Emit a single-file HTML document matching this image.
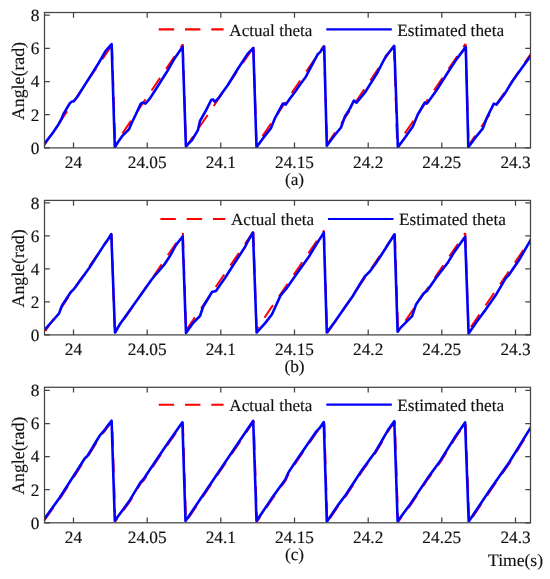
<!DOCTYPE html>
<html><head><meta charset="utf-8"><style>
html,body{margin:0;padding:0;background:#fff;width:550px;height:579px;overflow:hidden}
svg{display:block}
text{font-family:"Liberation Serif","Times New Roman",serif;font-size:17.3px;fill:#111111;stroke:#111111;stroke-width:0.15px;text-rendering:geometricPrecision}
</style></head><body>
<svg width="550" height="579" viewBox="0 0 550 579">
<rect width="550" height="579" fill="#fff"/>
<clipPath id="c0"><rect x="44.5" y="12.5" width="486.0" height="135.4"/></clipPath>
<g clip-path="url(#c0)">
<path d="M44.5,144.7 L112.0,45.0" fill="none" stroke="#ff0000" stroke-width="2" stroke-dasharray="15.2 10.8" stroke-dashoffset="0.8"/>
<path d="M115.2,144.1 L182.8,44.3" fill="none" stroke="#ff0000" stroke-width="2" stroke-dasharray="15.2 10.8" stroke-dashoffset="13.2"/>
<path d="M112.0,45.0 L115.2,144.1" fill="none" stroke="#ff0000" stroke-width="2" stroke-dasharray="15.2 10.8"/>
<path d="M186.0,146.9 L253.4,47.4" fill="none" stroke="#ff0000" stroke-width="2" stroke-dasharray="15.2 10.8" stroke-dashoffset="2.6"/>
<path d="M182.8,44.3 L186.0,146.9" fill="none" stroke="#ff0000" stroke-width="2" stroke-dasharray="15.2 10.8"/>
<path d="M256.6,144.8 L323.9,45.5" fill="none" stroke="#ff0000" stroke-width="2" stroke-dasharray="15.2 10.8" stroke-dashoffset="15.5"/>
<path d="M253.4,47.4 L256.6,144.8" fill="none" stroke="#ff0000" stroke-width="2" stroke-dasharray="15.2 10.8"/>
<path d="M327.1,144.2 L394.0,45.5" fill="none" stroke="#ff0000" stroke-width="2" stroke-dasharray="15.2 10.8" stroke-dashoffset="1.0"/>
<path d="M323.9,45.5 L327.1,144.2" fill="none" stroke="#ff0000" stroke-width="2" stroke-dasharray="15.2 10.8"/>
<path d="M397.2,144.7 L465.5,43.9" fill="none" stroke="#ff0000" stroke-width="2" stroke-dasharray="15.2 10.8" stroke-dashoffset="12.3"/>
<path d="M394.0,45.5 L397.2,144.7" fill="none" stroke="#ff0000" stroke-width="2" stroke-dasharray="15.2 10.8"/>
<path d="M468.7,145.4 L530.5,54.2" fill="none" stroke="#ff0000" stroke-width="2" stroke-dasharray="15.2 10.8" stroke-dashoffset="3.7"/>
<path d="M465.5,43.9 L468.7,145.4" fill="none" stroke="#ff0000" stroke-width="2" stroke-dasharray="15.2 10.8"/>
<path d="M44.0,144.6 L48.2,138.7 L52.4,133.5 L58.6,124.2 L61.2,119.5 L63.8,113.3 L70.0,103.0 L72.0,101.6 L74.1,100.9 L77.2,97.0 L91.5,74.4 L98.7,63.0 L105.5,51.1 L111.6,44.1 L114.8,147.3 L117.9,142.3 L121.9,136.4 L128.9,129.4 L131.9,122.5 L135.8,114.5 L140.8,103.6 L142.8,102.6 L145.4,103.6 L149.8,98.6 L156.0,89.0 L166.9,71.8 L174.9,57.9 L182.6,46.8 L185.9,146.3 L192.0,140.2 L197.9,130.2 L200.0,121.0 L206.0,110.3 L211.2,100.0 L212.9,99.4 L214.8,101.8 L218.9,97.6 L223.7,90.7 L227.7,85.2 L236.8,70.5 L245.6,56.9 L247.6,53.9 L253.3,47.9 L256.5,147.3 L262.9,138.4 L270.8,128.4 L274.8,118.5 L282.8,103.6 L285.8,104.6 L290.0,98.6 L295.1,91.7 L299.9,84.7 L305.9,76.7 L308.9,70.8 L317.8,54.2 L320.6,51.6 L324.2,46.6 L326.8,145.8 L333.7,136.4 L341.0,127.5 L344.9,116.5 L349.9,108.6 L353.9,100.6 L356.5,102.6 L364.8,92.7 L376.7,73.8 L386.0,56.0 L388.5,53.0 L394.3,45.9 L397.9,147.3 L405.8,136.4 L412.8,126.5 L417.8,114.5 L424.7,102.6 L426.7,103.6 L428.5,101.6 L436.9,89.7 L448.9,70.8 L456.8,58.9 L465.8,46.9 L468.3,147.3 L475.1,137.9 L482.9,128.4 L486.9,117.5 L493.9,103.6 L496.4,104.6 L504.8,93.6 L512.7,80.7 L522.7,66.8 L531.0,55.5" fill="none" stroke="#0000ff" stroke-width="2.6" stroke-linejoin="round"/>
</g>
<rect x="44.5" y="12.5" width="486.0" height="135.4" fill="none" stroke="#444444" stroke-width="1.25"/>
<path d="M73.5,147.9v-5.3M73.5,12.5v5.3M147.2,147.9v-5.3M147.2,12.5v5.3M220.8,147.9v-5.3M220.8,12.5v5.3M294.5,147.9v-5.3M294.5,12.5v5.3M368.2,147.9v-5.3M368.2,12.5v5.3M441.8,147.9v-5.3M441.8,12.5v5.3M515.5,147.9v-5.3M515.5,12.5v5.3M44.5,147.9h5.3M530.5,147.9h-5.3M44.5,114.7h5.3M530.5,114.7h-5.3M44.5,81.5h5.3M530.5,81.5h-5.3M44.5,48.3h5.3M530.5,48.3h-5.3M44.5,15.1h5.3M530.5,15.1h-5.3" stroke="#444444" stroke-width="1.25" fill="none"/>
<text x="73.5" y="168.0" text-anchor="middle">24</text>
<text x="147.2" y="168.0" text-anchor="middle">24.05</text>
<text x="220.8" y="168.0" text-anchor="middle">24.1</text>
<text x="294.5" y="168.0" text-anchor="middle">24.15</text>
<text x="368.2" y="168.0" text-anchor="middle">24.2</text>
<text x="441.8" y="168.0" text-anchor="middle">24.25</text>
<text x="515.5" y="168.0" text-anchor="middle">24.3</text>
<text x="39.5" y="153.7" text-anchor="end">0</text>
<text x="39.5" y="120.5" text-anchor="end">2</text>
<text x="39.5" y="87.3" text-anchor="end">4</text>
<text x="39.5" y="54.1" text-anchor="end">6</text>
<text x="39.5" y="20.9" text-anchor="end">8</text>
<text transform="translate(23.9,81.0) rotate(-90)" text-anchor="middle" style="font-size:17.8px">Angle(rad)</text>
<text x="294.5" y="184.9" text-anchor="middle">(a)</text>
<path d="M158.7,29.4H223.6" stroke="#ff0000" stroke-width="2.1" stroke-dasharray="15.4 10.9"/>
<text x="229.3" y="35.75" style="font-size:17.1px">Actual theta</text>
<path d="M326.3,29.4H391.8" stroke="#0000ff" stroke-width="2.2"/>
<text x="397.2" y="35.75">Estimated theta</text>
<clipPath id="c1"><rect x="44.5" y="200.4" width="486.0" height="134.49999999999997"/></clipPath>
<g clip-path="url(#c1)">
<path d="M44.5,332.3 L111.5,234.0" fill="none" stroke="#ff0000" stroke-width="2" stroke-dasharray="15.2 10.8" stroke-dashoffset="24.5"/>
<path d="M114.7,333.1 L182.9,233.1" fill="none" stroke="#ff0000" stroke-width="2" stroke-dasharray="15.2 10.8" stroke-dashoffset="9.8"/>
<path d="M111.5,234.0 L114.7,333.1" fill="none" stroke="#ff0000" stroke-width="2" stroke-dasharray="15.2 10.8"/>
<path d="M186.1,330.4 L253.3,231.8" fill="none" stroke="#ff0000" stroke-width="2" stroke-dasharray="15.2 10.8" stroke-dashoffset="25.5"/>
<path d="M182.9,233.1 L186.1,330.4" fill="none" stroke="#ff0000" stroke-width="2" stroke-dasharray="15.2 10.8"/>
<path d="M256.5,329.3 L323.9,230.5" fill="none" stroke="#ff0000" stroke-width="2" stroke-dasharray="15.2 10.8" stroke-dashoffset="12.0"/>
<path d="M253.3,231.8 L256.5,329.3" fill="none" stroke="#ff0000" stroke-width="2" stroke-dasharray="15.2 10.8"/>
<path d="M327.1,333.3 L394.9,233.8" fill="none" stroke="#ff0000" stroke-width="2" stroke-dasharray="15.2 10.8" stroke-dashoffset="25.5"/>
<path d="M323.9,230.5 L327.1,333.3" fill="none" stroke="#ff0000" stroke-width="2" stroke-dasharray="15.2 10.8"/>
<path d="M398.1,331.5 L465.3,233.0" fill="none" stroke="#ff0000" stroke-width="2" stroke-dasharray="15.2 10.8" stroke-dashoffset="13.0"/>
<path d="M394.9,233.8 L398.1,331.5" fill="none" stroke="#ff0000" stroke-width="2" stroke-dasharray="15.2 10.8"/>
<path d="M468.5,330.5 L530.5,239.6" fill="none" stroke="#ff0000" stroke-width="2" stroke-dasharray="15.2 10.8" stroke-dashoffset="21.8"/>
<path d="M465.3,233.0 L468.5,330.5" fill="none" stroke="#ff0000" stroke-width="2" stroke-dasharray="15.2 10.8"/>
<path d="M44.0,330.5 L52.0,321.5 L59.1,313.4 L61.9,305.8 L70.5,292.5 L73.3,289.7 L76.0,286.3 L89.4,267.8 L104.6,244.1 L107.5,240.3 L111.3,234.0 L115.0,332.5 L120.0,324.0 L125.0,317.0 L130.0,310.0 L135.0,303.0 L140.0,296.0 L152.0,279.0 L164.0,265.0 L170.0,256.0 L176.0,245.0 L182.6,236.5 L186.0,333.0 L193.0,323.0 L200.0,316.0 L203.0,307.0 L212.0,292.0 L216.0,291.0 L220.0,285.0 L225.0,278.0 L232.0,267.0 L245.0,247.0 L248.0,241.0 L253.0,232.5 L256.6,332.5 L265.4,322.9 L272.0,314.3 L280.6,295.4 L286.3,288.7 L294.8,276.4 L309.0,256.5 L314.7,247.0 L319.5,239.4 L323.8,232.7 L326.8,332.5 L335.0,321.5 L343.0,310.0 L352.5,296.5 L360.0,284.0 L364.8,276.5 L369.6,271.7 L375.0,264.5 L381.0,255.5 L389.0,243.0 L394.5,234.3 L397.6,331.8 L400.7,327.6 L412.1,316.2 L415.9,304.8 L423.5,293.5 L427.3,290.6 L435.8,278.3 L448.1,262.2 L453.8,252.7 L460.5,243.2 L465.1,236.8 L468.6,333.5 L477.2,321.0 L485.7,309.6 L496.2,294.4 L505.6,278.3 L508.5,275.4 L518.9,260.3 L529.4,242.2 L531.5,239.0" fill="none" stroke="#0000ff" stroke-width="2.6" stroke-linejoin="round"/>
</g>
<rect x="44.5" y="200.4" width="486.0" height="134.5" fill="none" stroke="#444444" stroke-width="1.25"/>
<path d="M73.5,334.9v-5.3M73.5,200.4v5.3M147.2,334.9v-5.3M147.2,200.4v5.3M220.8,334.9v-5.3M220.8,200.4v5.3M294.5,334.9v-5.3M294.5,200.4v5.3M368.2,334.9v-5.3M368.2,200.4v5.3M441.8,334.9v-5.3M441.8,200.4v5.3M515.5,334.9v-5.3M515.5,200.4v5.3M44.5,334.9h5.3M530.5,334.9h-5.3M44.5,301.9h5.3M530.5,301.9h-5.3M44.5,268.9h5.3M530.5,268.9h-5.3M44.5,235.9h5.3M530.5,235.9h-5.3M44.5,202.9h5.3M530.5,202.9h-5.3" stroke="#444444" stroke-width="1.25" fill="none"/>
<text x="73.5" y="355.0" text-anchor="middle">24</text>
<text x="147.2" y="355.0" text-anchor="middle">24.05</text>
<text x="220.8" y="355.0" text-anchor="middle">24.1</text>
<text x="294.5" y="355.0" text-anchor="middle">24.15</text>
<text x="368.2" y="355.0" text-anchor="middle">24.2</text>
<text x="441.8" y="355.0" text-anchor="middle">24.25</text>
<text x="515.5" y="355.0" text-anchor="middle">24.3</text>
<text x="39.5" y="340.7" text-anchor="end">0</text>
<text x="39.5" y="307.7" text-anchor="end">2</text>
<text x="39.5" y="274.7" text-anchor="end">4</text>
<text x="39.5" y="241.7" text-anchor="end">6</text>
<text x="39.5" y="208.7" text-anchor="end">8</text>
<text transform="translate(23.9,268.4) rotate(-90)" text-anchor="middle" style="font-size:17.8px">Angle(rad)</text>
<text x="294.5" y="371.9" text-anchor="middle">(b)</text>
<path d="M160.4,219.0H225.3" stroke="#ff0000" stroke-width="2.1" stroke-dasharray="15.4 10.9"/>
<text x="231.0" y="225.35" style="font-size:17.1px">Actual theta</text>
<path d="M328.0,219.0H393.5" stroke="#0000ff" stroke-width="2.2"/>
<text x="398.9" y="225.35">Estimated theta</text>
<clipPath id="c2"><rect x="44.5" y="387.3" width="486.0" height="135.49999999999994"/></clipPath>
<g clip-path="url(#c2)">
<path d="M44.5,520.1 L59.6,499.2 L71.0,481.5 L78.4,470.0 L85.0,459.5 L87.9,456.7 L92.6,449.0 L100.3,436.2 L104.1,431.9 L106.9,428.1 L112.1,421.4 L115.3,521.5 L129.6,502.0 L141.0,483.1 L143.8,480.2 L159.0,457.4 L169.4,442.3 L182.9,423.0 L186.0,521.7 L253.7,421.5 L257.0,521.7 L273.5,497.3 L285.8,480.2 L288.7,473.6 L294.3,465.0 L317.1,431.8 L320.0,429.0 L324.3,422.7 L327.3,522.5 L337.8,506.8 L346.3,495.4 L362.5,470.7 L375.7,452.7 L381.4,443.2 L389.0,429.9 L394.8,421.9 L398.1,522.0 L410.7,504.9 L427.8,479.3 L441.0,461.2 L456.2,436.6 L465.6,423.1 L469.2,522.2 L491.0,489.7 L509.9,462.7 L529.9,430.3 L532.0,427.1" fill="none" stroke="#ff0000" stroke-width="2" stroke-dasharray="15.2 10.8" stroke-linejoin="round"/>
<path d="M44.0,519.4 L59.1,498.5 L70.5,480.8 L77.9,469.3 L84.5,458.8 L87.4,456.0 L92.1,448.3 L99.8,435.5 L103.6,431.2 L106.4,427.4 L111.6,420.7 L114.8,520.8 L129.1,501.3 L140.5,482.4 L143.3,479.5 L158.5,456.7 L168.9,441.6 L182.4,422.3 L185.5,521.0 L253.2,420.8 L256.5,521.0 L273.0,496.6 L285.3,479.5 L288.2,472.9 L293.8,464.3 L316.6,431.1 L319.5,428.3 L323.8,422.0 L326.8,521.8 L337.3,506.1 L345.8,494.7 L362.0,470.0 L375.2,452.0 L380.9,442.5 L388.5,429.2 L394.3,421.2 L397.6,521.3 L410.2,504.2 L427.3,478.6 L440.5,460.5 L455.7,435.9 L465.1,422.4 L468.7,521.5 L490.5,489.0 L509.4,462.0 L529.4,429.6 L531.5,426.4" fill="none" stroke="#0000ff" stroke-width="2.6" stroke-linejoin="round"/>
</g>
<rect x="44.5" y="387.3" width="486.0" height="135.5" fill="none" stroke="#444444" stroke-width="1.25"/>
<path d="M73.5,522.8v-5.3M73.5,387.3v5.3M147.2,522.8v-5.3M147.2,387.3v5.3M220.8,522.8v-5.3M220.8,387.3v5.3M294.5,522.8v-5.3M294.5,387.3v5.3M368.2,522.8v-5.3M368.2,387.3v5.3M441.8,522.8v-5.3M441.8,387.3v5.3M515.5,522.8v-5.3M515.5,387.3v5.3M44.5,522.8h5.3M530.5,522.8h-5.3M44.5,489.7h5.3M530.5,489.7h-5.3M44.5,456.6h5.3M530.5,456.6h-5.3M44.5,423.5h5.3M530.5,423.5h-5.3M44.5,390.4h5.3M530.5,390.4h-5.3" stroke="#444444" stroke-width="1.25" fill="none"/>
<text x="73.5" y="542.9" text-anchor="middle">24</text>
<text x="147.2" y="542.9" text-anchor="middle">24.05</text>
<text x="220.8" y="542.9" text-anchor="middle">24.1</text>
<text x="294.5" y="542.9" text-anchor="middle">24.15</text>
<text x="368.2" y="542.9" text-anchor="middle">24.2</text>
<text x="441.8" y="542.9" text-anchor="middle">24.25</text>
<text x="515.5" y="542.9" text-anchor="middle">24.3</text>
<text x="39.5" y="528.6" text-anchor="end">0</text>
<text x="39.5" y="495.5" text-anchor="end">2</text>
<text x="39.5" y="462.4" text-anchor="end">4</text>
<text x="39.5" y="429.3" text-anchor="end">6</text>
<text x="39.5" y="396.2" text-anchor="end">8</text>
<text transform="translate(23.9,455.8) rotate(-90)" text-anchor="middle" style="font-size:17.8px">Angle(rad)</text>
<text x="294.5" y="559.8" text-anchor="middle">(c)</text>
<path d="M158.7,404.7H223.6" stroke="#ff0000" stroke-width="2.1" stroke-dasharray="15.4 10.9"/>
<text x="229.3" y="411.05" style="font-size:17.1px">Actual theta</text>
<path d="M326.3,404.7H391.8" stroke="#0000ff" stroke-width="2.2"/>
<text x="397.2" y="411.05">Estimated theta</text>
<text x="488" y="565.5" style="font-size:17.6px">Time(s)</text>
</svg>
</body></html>
